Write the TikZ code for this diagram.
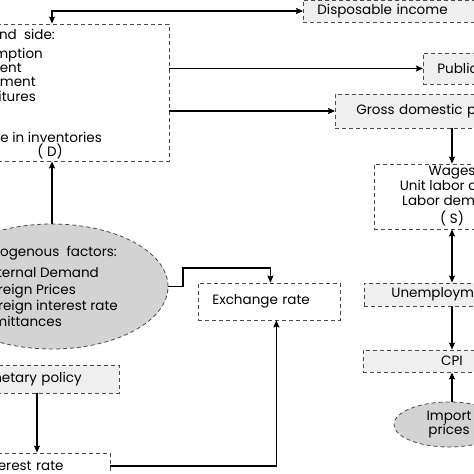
\documentclass[tikz,border=0pt]{standalone}
\usepackage{fontspec}
\setmainfont{Poppins}
\usetikzlibrary{arrows.meta,shapes.geometric}
\definecolor{boxfill}{HTML}{EFEFEF}
\definecolor{ellfill}{HTML}{D3D3D3}
\definecolor{dashc}{HTML}{4A4A4A}
\tikzset{
  dbox/.style={draw=dashc, dashed, dash pattern=on 4pt off 3pt, line width=0.8pt, inner sep=0pt},
  gbox/.style={dbox, fill=boxfill},
  gell/.style={dbox, ellipse, fill=ellfill},
  arr/.style={line width=1.3pt, -{Stealth[length=7pt,width=6pt,inset=1pt]}},
  darr/.style={line width=1.3pt, {Stealth[length=7pt,width=6pt,inset=1pt]}-{Stealth[length=7pt,width=6pt,inset=1pt]}},
  txt/.style={font=\fontsize{13.5}{14.5}\selectfont, inner sep=0pt},
}
\begin{document}
\begin{tikzpicture}[x=1pt,y=-1pt]
\useasboundingbox (0,0) rectangle (474,474);
\clip (0,0) rectangle (474,474);
\fill[white] (0,0) rectangle (474,474);
% demand box
\node[dbox, minimum width=234pt, minimum height=137pt] (dem) at (52,92.5) {};
\node[txt, anchor=base east] (d1) at (55,39) {Demand~ side:};
\node[txt, anchor=base east] (d2) at (43,58) {Consumption};
\node[txt, anchor=base east] (d3) at (22,72) {Investment};
\node[txt, anchor=base east] (d4) at (36,86) {Government};
\node[txt, anchor=base east] (d5) at (36,101) {Expenditures};
\node[txt, anchor=base east] (d6) at (102,142) {Change in inventories};
\node[txt, anchor=base] (d7) at (50,156) {( D)};
% right column
\node[txt, gbox, anchor=west, minimum height=22pt, text width=170pt, align=left, inner xsep=14pt] (disp) at (303,11) {Disposable income};
\node[txt, gbox, anchor=west, minimum height=31pt, text width=120pt, align=left, inner xsep=14pt] (pub) at (423,68.5) {Public debt};
\node[txt, gbox, anchor=west, minimum height=34pt, text width=200pt, align=left, inner xsep=21pt] (gdp) at (335,111) {Gross domestic product};
\node[txt, dbox, minimum width=156pt, minimum height=65pt, align=center, font=\fontsize{13.5}{15}\selectfont] (wag) at (452,196.5) {Wages\\Unit labor costs\\Labor demand\\[3pt]( S)};
\node[txt, gbox, anchor=west, minimum height=23pt, text width=170pt, align=left, inner xsep=27pt] (une) at (364,294.5) {Unemployment};
\node[txt, gbox, minimum width=178pt, minimum height=22pt] (cpi) at (452,361) {CPI};
\node[txt, gell, minimum width=110pt, minimum height=45pt, align=center] (imp) at (449,424.5) {Import\\prices};
\coordinate (colR) at (452,0);
% left side
\node[gell, minimum width=232pt, minimum height=125pt] (exo) at (52,286.5) {};
\node[txt, anchor=base east] (e1) at (117,256) {Exogenous~ factors:};
\node[txt, anchor=base east] (e2) at (99,277) {External Demand};
\node[txt, anchor=base east] (e3) at (76,294) {Foreign Prices};
\node[txt, anchor=base east] (e4) at (118,310) {Foreign interest rate};
\node[txt, anchor=base east] (e5) at (62,326) {Remittances};
\node[txt, dbox, anchor=west, minimum height=37pt, text width=114pt, align=left, inner xsep=14pt] (exc) at (198,301.5) {Exchange rate};
\node[txt, gbox, minimum height=28pt, text width=128pt, align=left, inner xsep=18pt] (mon) at (37,379) {Monetary policy};
\node[txt, dbox, fill=white, minimum height=26pt, text width=112pt, align=left, inner xsep=17pt] (ir) at (37,466) {Interest rate};
\coordinate (k1) at (183,268);
% connectors
\draw[darr] (dem.north) |- (disp.west);
\draw[arr] (dem.east |- pub.west) -- (pub.west);
\draw[arr] (dem.east |- gdp.west) -- (gdp.west);
\draw[arr] (colR |- gdp.south) -- (colR |- wag.north);
\draw[darr] (colR |- wag.south) -- (colR |- une.north);
\draw[arr] (colR |- une.south) -- (colR |- cpi.north);
\draw[arr] (colR |- imp.north) -- (colR |- cpi.south);
\draw[arr] (exo.north) -- (dem.south);
\draw[arr] (exo.east) -| (k1) -| ([xshift=1pt]exc.north);
\draw[arr] (ir.east) -| ([xshift=7pt]exc.south);
\draw[arr] (mon.south) -- (ir.north);
\end{tikzpicture}
\end{document}
